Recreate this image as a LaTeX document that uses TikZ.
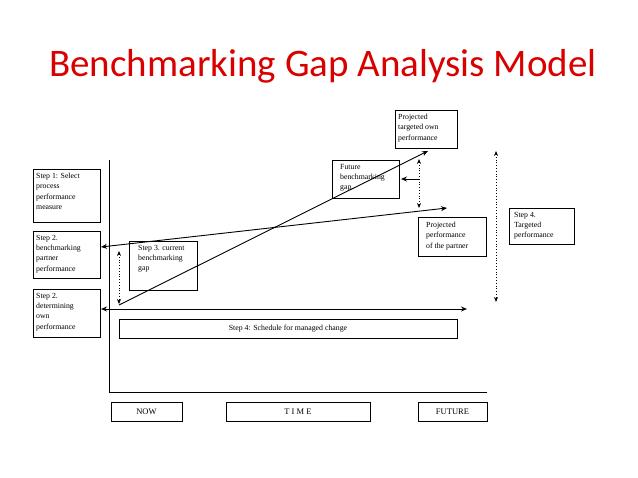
\documentclass[tikz,border=0pt]{standalone}
\usepackage{fontspec}
\setmainfont{Liberation Serif}
\newfontfamily\titlefont{Carlito}
\usetikzlibrary{arrows.meta}
\begin{document}
\begin{tikzpicture}[x=1pt,y=-1pt,
  bx/.style={draw,line width=0.6pt,inner sep=0pt},
  lbl/.style={anchor=north west,align=left,font=\fontsize{7.8}{10.3}\selectfont,inner sep=0pt},
  arr/.style={line width=0.9pt,-{Stealth[length=6pt,width=5pt]}},
  darr/.style={line width=0.9pt,{Stealth[length=6pt,width=5pt]}-{Stealth[length=6pt,width=5pt]}},
  dot/.style={dotted,line width=0.8pt,{Stealth[length=5pt,width=4pt]}-{Stealth[length=5pt,width=4pt]}}]
\useasboundingbox (0,0) rectangle (638,478);
\node[text=red!85!black,font=\titlefont\fontsize{39}{44}\selectfont] (title) at (323,66) {Benchmarking Gap Analysis Model};
% boxes
\draw[bx] (395,110) rectangle (457,148); \node[lbl] (pto) at (398,114) {Projected\\targeted own\\performance};
\draw[bx] (332,160) rectangle (399,198); \node[lbl] (fbg) at (340,164) {Future\\benchmarking\\gap};
\draw[bx] (33,169) rectangle (100,222); \node[lbl] (s1) at (36,173) {Step 1: Select\\process\\performance\\measure};
\draw[bx] (33,231) rectangle (100,278); \node[lbl] (s2b) at (36,235) {Step 2.\\benchmarking\\partner\\performance};
\draw[bx] (33,289) rectangle (100,337); \node[lbl] (s2d) at (36,293) {Step 2.\\determining\\own\\performance};
\draw[bx] (129,241) rectangle (197,290); \node[lbl] (s3) at (138,245) {Step 3. current\\benchmarking\\gap};
\draw[bx] (418,217) rectangle (486,256); \node[lbl] (ppp) at (426,222) {Projected\\performance\\of the partner};
\draw[bx] (509,208) rectangle (574,244); \node[lbl] (s4t) at (514,212) {Step 4.\\Targeted\\performance};
\draw[bx] (119,319) rectangle (457,338); \node[font=\fontsize{7.8}{10}\selectfont] (sch) at (288,328.5) {Step 4: Schedule for managed change};
\draw[bx] (111,402) rectangle (182,421); \node[font=\fontsize{8.5}{10}\selectfont] (now) at (146.5,411.5) {NOW};
\draw[bx] (226,402) rectangle (370,421); \node[font=\fontsize{8.5}{10}\selectfont] (time) at (298,411.5) {T I M E};
\draw[bx] (418,402) rectangle (487,421); \node[font=\fontsize{8.5}{10}\selectfont] (fut) at (452.5,411.5) {FUTURE};
% axes
\coordinate (ax0) at (109,160); \coordinate (ax1) at (109,392); \coordinate (ax2) at (487,392);
\draw[line width=0.6pt] (ax0) -- (ax1) -- (ax2);
% arrows
\coordinate (h0) at (101,309); \coordinate (h1) at (467,309);
\draw[darr] (h0) -- (h1);
\coordinate (p0) at (101,247); \coordinate (p1) at (447,208);
\draw[darr] (p0) -- (p1);
\coordinate (o0) at (119,305); \coordinate (o1) at (428,151);
\draw[arr] (o0) -- (o1);
\coordinate (d0) at (119,251); \coordinate (d1) at (119,304);
\draw[dot] (d0) -- (d1);
\coordinate (e0) at (419,159); \coordinate (e1) at (419,208);
\draw[dot] (e0) -- (e1);
\coordinate (f0) at (419,179); \coordinate (f1) at (401,179);
\draw[arr] (f0) -- (f1);
\coordinate (g0) at (496,151); \coordinate (g1) at (496,302);
\draw[dot] (g0) -- (g1);
\end{tikzpicture}
\end{document}
